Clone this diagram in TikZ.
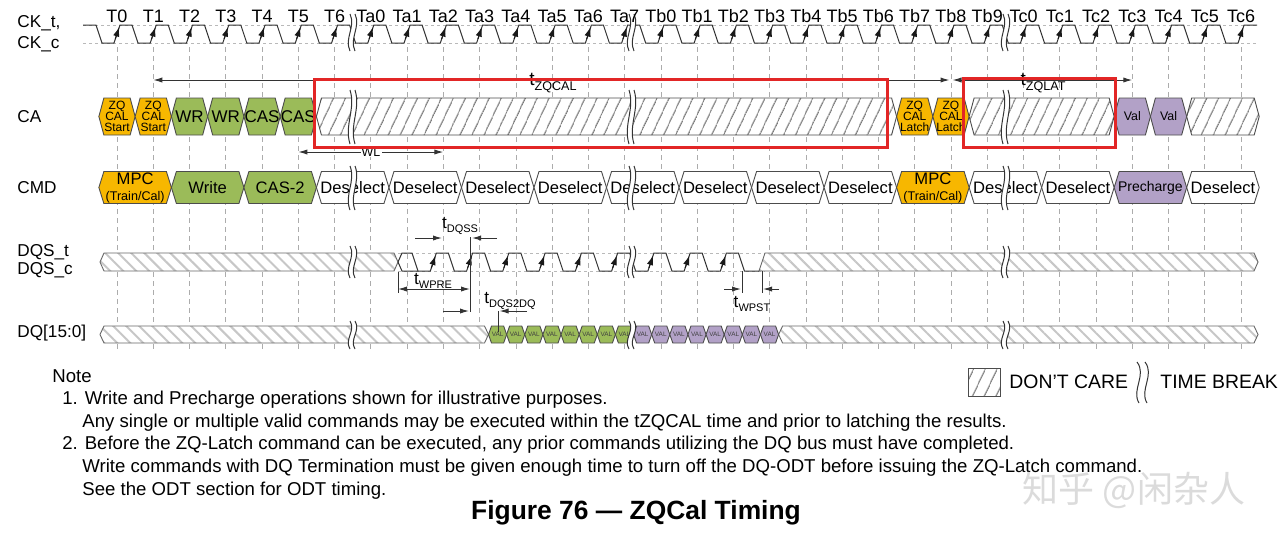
\documentclass[tikz,border=0pt]{standalone}
\usepackage{fontspec}
\setmainfont{Liberation Sans}
\newfontfamily\cjk{Noto Sans CJK SC}
\usetikzlibrary{arrows.meta,patterns.meta}

\definecolor{zqorange}{RGB}{247,183,0}
\definecolor{wrgreen}{RGB}{155,187,89}
\definecolor{valpurple}{RGB}{178,161,199}
\definecolor{markred}{RGB}{226,38,38}

\begin{document}
\begin{tikzpicture}[x=0.5pt, y=-0.5pt, >={Latex[length=4.5pt,width=2.6pt]},
    wave/.style={line width=0.5pt, draw=black!80},
    edgearrow/.style={-{Latex[length=4.8pt,width=3.2pt]}, line width=0.5pt, draw=black!90, fill=black!90},
    gridline/.style={draw=gray!65, dash pattern=on 2.5pt off 2pt, line width=0.35pt},
    levelline/.style={draw=gray!55, dash pattern=on 1.5pt off 1.5pt, line width=0.35pt},
    cellline/.style={draw=black!70, line width=0.45pt},
    dontcare/.style={draw=black!70, line width=0.45pt, preaction={fill=white},
      pattern={Lines[angle=65, distance=5.4pt, line width=0.45pt]}, pattern color=black!80},
    dqhatch/.style={draw=black!60, line width=0.45pt, preaction={fill=white},
      pattern={Lines[angle=135, distance=4.6pt, line width=1pt]}, pattern color=black!22},
    breakline/.style={line width=0.5pt, draw=black!80},
    rowlabel/.style={anchor=west, inner sep=0pt, font=\fontsize{8.6}{9}\selectfont},
    cklabel/.style={inner sep=0pt, font=\fontsize{9}{10}\selectfont},
    cafont/.style={inner sep=0pt, font=\fontsize{8.5}{9}\selectfont},
    zqfont/.style={inner sep=0pt, align=center, font=\fontsize{6}{5.4}\selectfont},
    valca/.style={inner sep=0pt, font=\fontsize{6.2}{7}\selectfont},
    cmdfont/.style={inner sep=0pt, align=center, font=\fontsize{8.3}{8}\selectfont},
    valfont/.style={inner sep=0pt, text=black!75, font=\fontsize{3.2}{4}\selectfont},
    dimlabel/.style={inner sep=0pt, font=\fontsize{8.6}{9}\selectfont},
    legendfont/.style={anchor=west, inner sep=0pt, font=\fontsize{9.7}{11}\selectfont},
    notefont/.style={anchor=base west, inner sep=0pt, font=\fontsize{9.3}{10}\selectfont}]

  % área total da figura
  \useasboundingbox (0,0) rectangle (1283,538);

  % células hexagonais, quebras de tempo e rótulos t_xxx
  \def\tpr{5}
  \def\hexcell#1#2#3#4#5{\draw[#5] ({#1},{#3}) -- ({#1+\tpr},{#3-#4}) -- ({#2-\tpr},{#3-#4})
      -- ({#2},{#3}) -- ({#2-\tpr},{#3+#4}) -- ({#1+\tpr},{#3+#4}) -- cycle;}
  \def\cacell#1#2#3#4#5{\hexcell{117+(#1-0.5)*36.26}{117+(#1+0.5)*36.26}{116.5}{18.5}{cellline,fill=#2}
      \node[#3] (#4) at ({117+#1*36.26},116.5) {#5};}
  \def\cmdcell#1#2#3#4{\hexcell{117+(#1-0.5)*36.26}{117+(#1+1.5)*36.26}{187.5}{16}{cellline,fill=#2}
      \node[cmdfont] (#3) at ({117+(#1+0.5)*36.26},187.5) {#4};}
  \def\tbreak#1#2#3{\fill[white] ({#1},{#2}) .. controls ({#1+6},{#2+0.35*(#3-#2)}) and ({#1-6},{#2+0.65*(#3-#2)}) .. ({#1},{#3})
      -- ({#1+5},{#3}) .. controls ({#1-1},{#2+0.65*(#3-#2)}) and ({#1+11},{#2+0.35*(#3-#2)}) .. ({#1+5},{#2}) -- cycle;
    \draw[breakline] ({#1},{#2}) .. controls ({#1+6},{#2+0.35*(#3-#2)}) and ({#1-6},{#2+0.65*(#3-#2)}) .. ({#1},{#3});
    \draw[breakline] ({#1+5},{#2}) .. controls ({#1+11},{#2+0.35*(#3-#2)}) and ({#1-1},{#2+0.65*(#3-#2)}) .. ({#1+5},{#3});}
  \def\tsub#1#2{t\raisebox{-0.45ex}{\fontsize{#1}{#1}\selectfont #2}}

  % Rótulos das linhas
  \node[rowlabel] (ckt) at (17,23) {CK\_t,};
  \node[rowlabel] (ckc) at (17,44) {CK\_c};
  \node[rowlabel] (ca) at (17,117) {CA};
  \node[rowlabel] (cmd) at (17,187.5) {CMD};
  \node[rowlabel] (dqst) at (17,252) {DQS\_t};
  \node[rowlabel] (dqsc) at (17,270) {DQS\_c};
  \node[rowlabel] (dq) at (17,333) {DQ[15:0]};

  % Linhas de grade nas bordas do relógio
  \foreach \lab [count=\i from 0] in {T0,T1,T2,T3,T4,T5,T6,Ta0,Ta1,Ta2,Ta3,Ta4,Ta5,Ta6,Ta7,
      Tb0,Tb1,Tb2,Tb3,Tb4,Tb5,Tb6,Tb7,Tb8,Tb9,Tc0,Tc1,Tc2,Tc3,Tc4,Tc5,Tc6} {
    \coordinate (\lab) at ({117+\i*36.26},0);
    \draw[gridline] ({117+\i*36.26},47) -- ({117+\i*36.26},350);
  }

  % Níveis de referência
  \draw[levelline] (83,25) -- (1257,25);
  \draw[levelline] (83,43) -- (1257,43);
  \draw[levelline] (398,253) -- (765,253);
  \draw[levelline] (398,271) -- (765,271);

  % Relógio CK_t / CK_c
  \draw[wave] (83,25) -- (96,25) -- (102,43)
    foreach \i in {0,...,30} { -- ({114+\i*36.26},43) -- ({120+\i*36.26},25) -- ({132+\i*36.26},25) -- ({138+\i*36.26},43) }
    -- (1238.06,43) -- (1244.06,25) -- (1257,25);
  \foreach \i in {0,...,31}
    \draw[edgearrow] ({115.3+\i*36.26},39) -- ({119.2+\i*36.26},27);

  % Barramento CA
  \cacell{0}{zqorange}{zqfont}{caS0}{ZQ\\CAL\\Start}
  \cacell{1}{zqorange}{zqfont}{caS1}{ZQ\\CAL\\Start}
  \cacell{2}{wrgreen}{cafont}{caW2}{WR}
  \cacell{3}{wrgreen}{cafont}{caW3}{WR}
  \cacell{4}{wrgreen}{cafont}{caC4}{CAS}
  \cacell{5}{wrgreen}{cafont}{caC5}{CAS}
  \cacell{22}{zqorange}{zqfont}{caL22}{ZQ\\CAL\\Latch}
  \cacell{23}{zqorange}{zqfont}{caL23}{ZQ\\CAL\\Latch}
  \cacell{28}{valpurple}{valca}{caV28}{Val}
  \cacell{29}{valpurple}{valca}{caV29}{Val}
  \hexcell{316.43}{896.59}{116.5}{18.5}{dontcare}
  \hexcell{969.11}{1114.15}{116.5}{18.5}{dontcare}
  \hexcell{1186.67}{1259.19}{116.5}{18.5}{dontcare}

  % Comandos
  \cmdcell{0}{zqorange}{cmdM0}{MPC\\{\fontsize{6.3}{6.5}\selectfont (Train/Cal)}}
  \cmdcell{2}{wrgreen}{cmdW}{Write}
  \cmdcell{4}{wrgreen}{cmdC}{CAS-2}
  \foreach \k in {6,8,10,12,14,16,18,20,24,26,30} { \cmdcell{\k}{white}{cmdD\k}{Deselect} }
  \cmdcell{22}{zqorange}{cmdM22}{MPC\\{\fontsize{6.3}{6.5}\selectfont (Train/Cal)}}
  \cmdcell{28}{valpurple}{cmdP}{{\fontsize{7}{8}\selectfont Precharge}}

  % DQS_t / DQS_c
  \def\tpr{4}
  \hexcell{100}{398}{262}{9}{dqhatch}
  \draw[dqhatch] (759,271) -- (765,253) -- (1254,253) -- (1258,262) -- (1254,271) -- cycle;
  \draw[wave] (398,262) -- (402,253) -- (412,253) -- (418,271);
  \draw[wave] (398,262) -- (402,271)
    foreach \i in {9,...,17} { -- ({104+\i*36.26},271) -- ({110+\i*36.26},253) -- ({122+\i*36.26},253) -- ({128+\i*36.26},271) }
    -- (759,271);
  \foreach \i in {9,...,17}
    \draw[edgearrow] ({105+\i*36.26},268) -- ({109.2+\i*36.26},255.5);

  % DQ[15:0]
  \hexcell{100}{488.5}{334.5}{8.5}{dqhatch}
  \hexcell{778.58}{1258}{334.5}{8.5}{dqhatch}
  \def\tpr{3}
  \foreach \j in {0,...,7} {
    \hexcell{488.5+\j*18.13}{488.5+(\j+1)*18.13}{334.5}{8.5}{cellline,fill=wrgreen}
    \node[valfont] (dqA\j) at ({497.57+\j*18.13},334.5) {VAL};
  }
  \foreach \j in {8,...,15} {
    \hexcell{488.5+\j*18.13}{488.5+(\j+1)*18.13}{334.5}{8.5}{cellline,fill=valpurple}
    \node[valfont] (dqB\j) at ({497.57+\j*18.13},334.5) {VAL};
  }

  % Quebras de tempo
  \foreach \bx in {350,629,1003} {
    \tbreak{\bx}{14}{51}
    \tbreak{\bx}{90}{144}
    \tbreak{\bx}{166}{210}
    \tbreak{\bx}{246}{278}
    \tbreak{\bx}{321}{349}
  }

  % Rótulos das bordas do relógio
  \foreach \lab in {T0,T1,T2,T3,T4,T5,T6,Ta0,Ta1,Ta2,Ta3,Ta4,Ta5,Ta6,Ta7,
      Tb0,Tb1,Tb2,Tb3,Tb4,Tb5,Tb6,Tb7,Tb8,Tb9,Tc0,Tc1,Tc2,Tc3,Tc4,Tc5,Tc6}
    \node[cklabel] (l\lab) at ([yshift=-8pt]\lab) {\lab};

  % tZQCAL e tZQLAT
  \coordinate (zqcalL) at (153.26,80);
  \coordinate (zqcalR) at (949.5,80);
  \coordinate (zqlatL) at (952.5,80);
  \coordinate (zqlatR) at (1132.28,80);
  \draw[<->, wave] (zqcalL) -- (zqcalR);
  \draw[<->, wave] (zqlatL) -- (zqlatR);
  \node[dimlabel, font=\fontsize{9.5}{10}\selectfont] (tzqcal) at (553,83) {\tsub{6.3}{ZQCAL}};
  \node[dimlabel, font=\fontsize{9.5}{10}\selectfont] (tzqlat) at (1043,83) {\tsub{6.3}{ZQLAT}};

  % WL
  \coordinate (wlL) at (298.3,152);
  \coordinate (wlR) at (443.34,152);
  \draw[<->, wave] (wlL) -- (wlR);
  \node[fill=white, inner sep=0.6pt, font=\fontsize{6.2}{7}\selectfont] (wl) at (371,152) {WL};

  % tDQSS, tWPRE, tDQS2DQ
  \coordinate (dqsTop) at (470,237);
  \coordinate (dqsBot) at (470,312);
  \draw[wave] (dqsTop) -- (dqsBot);
  \coordinate (dqssA) at (415,238);
  \coordinate (dqssB) at (442,238);
  \coordinate (dqssC) at (497,238);
  \coordinate (dqssD) at (472,238);
  \draw[->, wave] (dqssA) -- (dqssB);
  \draw[->, wave] (dqssC) -- (dqssD);
  \node[dimlabel] (tdqss) at (460,226) {\tsub{5.5}{DQSS}};
  \coordinate (wpreTop) at (398,272);
  \coordinate (wpreBot) at (398,293);
  \draw[wave] (wpreTop) -- (wpreBot);
  \coordinate (wpreL) at (398,289);
  \coordinate (wpreR) at (470,289);
  \draw[<->, wave] (wpreL) -- (wpreR);
  \node[dimlabel] (twpre) at (433,281) {\tsub{5.5}{WPRE}};
  \coordinate (dq2A) at (443,311);
  \coordinate (dq2B) at (469,311);
  \coordinate (dq2C) at (527,311);
  \coordinate (dq2D) at (499.5,311);
  \draw[->, wave] (dq2A) -- (dq2B);
  \draw[->, wave] (dq2C) -- (dq2D);
  \draw[wave] (498,311) -- (dqA0.north -| 498,326);
  \node[dimlabel] (tdqs2dq) at (510,301) {\tsub{5.5}{DQS2DQ}};

  % tWPST
  \draw[wave] (742,271) -- (742,293);
  \draw[wave] (762,271) -- (762,293);
  \coordinate (wpstA) at (724,289);
  \coordinate (wpstB) at (741,289);
  \coordinate (wpstC) at (779,289);
  \coordinate (wpstD) at (763,289);
  \draw[->, wave] (wpstA) -- (wpstB);
  \draw[->, wave] (wpstC) -- (wpstD);
  \node[dimlabel] (twpst) at (752,304) {\tsub{5.5}{WPST}};

  % Destaques em vermelho
  \draw[markred, line width=1.5pt] (314,79) rectangle (887,147);
  \draw[markred, line width=1.5pt] (963,78) rectangle (1115,147);

  % Legenda
  \draw[dontcare] (968,368) rectangle (1000,396);
  \node[legendfont] (dcare) at (1009,382) {DON'T CARE};
  \draw[breakline] (1137,362) .. controls (1147,375) and (1131,390) .. (1139,403);
  \draw[breakline] (1145,362) .. controls (1155,375) and (1139,390) .. (1147,403);
  \node[legendfont] (tbreak) at (1160,382) {TIME BREAK};

  % Notas
  \node[notefont] (note) at (52,382) {Note};
  \node[notefont] (n1) at (62,404) {1. Write and Precharge operations shown for illustrative purposes.};
  \node[notefont] (n1b) at (82,427) {Any single or multiple valid commands may be executed within the tZQCAL time and prior to latching the results.};
  \node[notefont] (n2) at (62,449) {2. Before the ZQ-Latch command can be executed, any prior commands utilizing the DQ bus must have completed.};
  \node[notefont] (n2b) at (82,472) {Write commands with DQ Termination must be given enough time to turn off the DQ-ODT before issuing the ZQ-Latch command.};
  \node[notefont] (n2c) at (82,495) {See the ODT section for ODT timing.};

  % Título e marca d'água
  \node[inner sep=0pt, font=\bfseries\fontsize{13.2}{14}\selectfont] (title) at (636,513) {Figure 76 — ZQCal Timing};
  \node[inner sep=0pt, text=gray!28, font=\cjk\fontsize{18}{20}\selectfont] (wm) at (1134,490) {知乎 @闲杂人};
\end{tikzpicture}
\end{document}
